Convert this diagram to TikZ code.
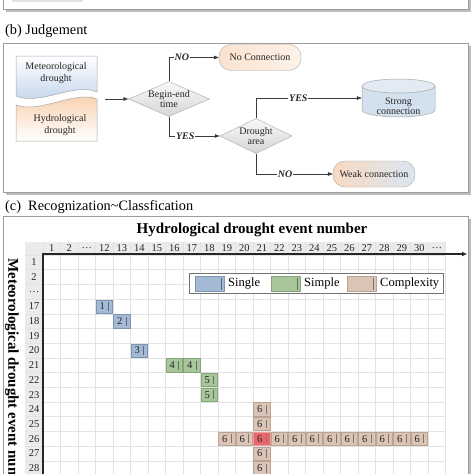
\documentclass[tikz,border=0pt]{standalone}
\usepackage{fontspec}
\setmainfont{Liberation Serif}
\usetikzlibrary{arrows.meta,shapes.geometric}
\definecolor{pborder}{HTML}{9C9C9C}
\definecolor{pshadow}{HTML}{BDBDBD}
\definecolor{fborder}{HTML}{A8A8A8}
\definecolor{arrc}{HTML}{3C3C3C}
\definecolor{metblue}{HTML}{BCD2EA}
\definecolor{hydor}{HTML}{F7CCA8}
\definecolor{ncl}{HTML}{FBE2CF}
\definecolor{ncr}{HTML}{FDF2E9}
\definecolor{wcl}{HTML}{F8DAC2}
\definecolor{wcr}{HTML}{DAE5F2}
\definecolor{cylb}{HTML}{D3E0EE}
\definecolor{cylt}{HTML}{E2EAF4}
\definecolor{gridc}{HTML}{E3E3E3}
\definecolor{hdrc}{HTML}{EBEBEB}
\definecolor{sgf}{HTML}{A4BAD4}
\definecolor{sgd}{HTML}{7D95B4}
\definecolor{smf}{HTML}{A9C59B}
\definecolor{smd}{HTML}{84A676}
\definecolor{cxf}{HTML}{DAC4B6}
\definecolor{cxd}{HTML}{BBA293}
\definecolor{redf}{HTML}{E9676A}
\definecolor{redd}{HTML}{E3A0A0}

\newcommand\gcell[5]{%
  \path[fill=#3, draw=#4, line width=0.5pt] ({43+(#1-1)*17.5+0.7},{255+(#2-1)*14.7+0.7}) rectangle ({43+#1*17.5-0.7},{255+#2*14.7-0.7});
  \draw[draw=#4!70!black, line width=0.4pt] ({43+#1*17.5-4.5},{255+(#2-1)*14.7+3}) -- ({43+#1*17.5-4.5},{255+#2*14.7-3});
  \node[celltxt] (cell-#1-#2) at ({43+(#1-0.5)*17.5-2},{255+(#2-0.5)*14.7}) {#5};
}
\newcommand\lswatch[4]{%
  \path[fill=#2, draw=#3, line width=0.5pt] (#1,276) rectangle ({#1+29},291);
  \draw[draw=#3!70!black, line width=0.4pt] ({#1+26},277.5) -- ({#1+26},289.5);
  \coordinate (#4) at ({#1+29},283.5);
}

\begin{document}
\begin{tikzpicture}[x=1pt,y=-1pt,
  txt/.style={font=\fontsize{10}{11.5}\selectfont, align=center, inner sep=0pt, text=black!85},
  flow/.style={draw=arrc, line width=0.6pt, -{Triangle[length=5pt,width=3.6pt]}},
  lab/.style={font=\bfseries\itshape\fontsize{10}{12}\selectfont, fill=white, inner sep=1pt, text=black!85},
  diam/.style={diamond, draw=fborder, top color=gray!5, bottom color=gray!32, minimum width=#1, minimum height=35pt, inner sep=0pt},
  stad/.style={draw=fborder, rounded corners=12pt, minimum width=82pt, minimum height=26pt, inner sep=0pt, font=\fontsize{10}{12}\selectfont, text=black!85},
  celltxt/.style={font=\fontsize{10.5}{12}\selectfont, inner sep=0pt, text=black!85},
  numtxt/.style={font=\fontsize{10.5}{12}\selectfont, inner sep=0pt, text=black!85},
  legtxt/.style={font=\fontsize{12.5}{14}\selectfont, inner sep=0pt, anchor=west},
  ttl/.style={font=\fontsize{14.3}{16}\selectfont, anchor=base west, inner sep=0pt},
  gline/.style={draw=gridc, line width=0.5pt},
  axisl/.style={draw=black!85, line width=1.5pt}
]
\useasboundingbox (0,0) rectangle (474,474);
\clip (0,0) rectangle (474,474);
\fill[white] (0,0) rectangle (474,474);

% ---------- panel (a) remnant
\fill[pshadow] (6,-10) rectangle (471,12);
\draw[pborder, fill=white, line width=0.8pt] (3,-12) rectangle (468,9);
\fill[gray!22] (12,-5) rectangle (83,2);

% ---------- panel (b)
\node[ttl] (tb) at (5,34) {(b) Judgement};
\fill[pshadow] (6,46) rectangle (471,195);
\draw[pborder, fill=white, line width=0.8pt] (3,43) rectangle (468,192);

\path[draw=fborder, line width=0.5pt, top color=white, bottom color=metblue]
  (16,56) -- (97,56) -- (97,92) .. controls (75,82) and (40,106) .. (16,96) -- cycle;
\path[draw=fborder, line width=0.5pt, top color=hydor, bottom color=white]
  (16,105) .. controls (40,114) and (75,90) .. (97,99) -- (97,141) -- (16,141) -- cycle;
\node[txt, font=\fontsize{10}{12}\selectfont] (mtx) at (56,73) {Meteorological\\drought};
\node[txt, font=\fontsize{10}{12}\selectfont] (htx) at (60,125) {Hydrological\\drought};

\coordinate (ms) at (105,99);
\node[diam=81pt] (be) at (169,99) {};
\node[txt, font=\fontsize{10}{10}\selectfont] (bet) at (169,99) {Begin-end\\time};
\node[diam=72pt] (da) at (256,136) {};
\node[txt, font=\fontsize{10}{10}\selectfont] (dat) at (256,136) {Drought\\area};

\node[stad, left color=ncl, right color=ncr] (nc) at (260,57.5) {No Connection};
\node[stad, left color=wcl, right color=wcr] (wc) at (374,174) {Weak connection};

\node[minimum width=73pt, minimum height=38pt, inner sep=0pt] (sc) at (398.5,98) {};
\path[fill=cylb, draw=fborder, line width=0.5pt] (362,86) -- (362,110)
  .. controls (362,113.9) and (378.8,117) .. (398.5,117)
  .. controls (418.2,117) and (435,113.9) .. (435,110) -- (435,86) -- cycle;
\path[fill=cylt, draw=fborder, line width=0.5pt] (398.5,86) ellipse [x radius=36.5, y radius=7];
\node[txt, font=\fontsize{10}{8.5}\selectfont] (sct) at (398.5,106.5) {Strong\\connection};

\draw[flow] (ms) -- (be.west);
\draw[flow] (be.north) |- (nc.west) node[lab, pos=0.63] (no1) {NO};
\draw[flow] (be.south) |- (da.west) node[lab, pos=0.66] (yes1) {YES};
\draw[flow] (da.north) |- (sc.west) node[lab, pos=0.70] (yes2) {YES};
\draw[flow] (da.south) |- (wc.west) node[lab, pos=0.69] (no2) {NO};

% ---------- panel (c)
\node[ttl] (tc) at (5,210) {(c)\ \ Recognization\textasciitilde Classfication};
\fill[pshadow] (6,219) rectangle (471,490);
\draw[pborder, fill=white, line width=0.8pt] (3,216) rectangle (468,490);

\node[font=\bfseries\fontsize{15}{17}\selectfont, inner sep=0pt] (xt) at (252,230) {Hydrological drought event number};
\node[font=\bfseries\fontsize{15}{17}\selectfont, rotate=-90, anchor=west, inner sep=0pt] (yt) at (12,258) {Meteorological drought event number};

\fill[hdrc] (25,242) rectangle (445.5,254);
\fill[hdrc] (25,254) rectangle (43,490);
\foreach \i in {0,...,23} \draw[gline] ({43+\i*17.5},242) -- ({43+\i*17.5},490);
\foreach \j in {0,...,16} \draw[gline] (25,{255+\j*14.7}) -- (445.5,{255+\j*14.7});

\foreach \t [count=\i] in {1,2,…,12,13,14,15,16,17,18,19,20,21,22,23,24,25,26,27,28,29,30,…}
  \node[numtxt] (cl\i) at ({43+(\i-0.5)*17.5},248) {\t};
\foreach \t [count=\j] in {1,2,…,17,18,19,20,21,22,23,24,25,26,27,28}
  \node[numtxt] (rl\j) at (34,{255+(\j-0.5)*14.7}) {\t};

\coordinate (org) at (43,254);
\coordinate (xend) at (467,254);
\coordinate (yend) at (43,490);
\draw[axisl] (org) -- (yend);
\draw[axisl, -{Triangle[length=5pt,width=4pt]}] ([xshift=-0.75pt]org) -- (xend);

% legend
\node[draw=black!55, fill=white, line width=0.6pt, minimum width=254pt, minimum height=20pt, inner sep=0pt] (leg) at (316,283) {};
\lswatch{195}{sgf}{sgd}{ls1}
\node[legtxt] (lt1) at ([xshift=4pt]ls1) {Single};
\lswatch{271}{smf}{smd}{ls2}
\node[legtxt] (lt2) at ([xshift=4pt]ls2) {Simple};
\lswatch{347}{cxf}{cxd}{ls3}
\node[legtxt] (lt3) at ([xshift=4pt]ls3) {Complexity};

% cells
\gcell{4}{4}{sgf}{sgd}{1}
\gcell{5}{5}{sgf}{sgd}{2}
\gcell{6}{7}{sgf}{sgd}{3}
\gcell{8}{8}{smf}{smd}{4}
\gcell{9}{8}{smf}{smd}{4}
\gcell{10}{9}{smf}{smd}{5}
\gcell{10}{10}{smf}{smd}{5}
\foreach \c in {11,12,14,15,16,17,18,19,20,21,22} {\gcell{\c}{13}{cxf}{cxd}{6}}
\foreach \r in {11,12,14,15} {\gcell{13}{\r}{cxf}{cxd}{6}}
\gcell{13}{13}{redf}{redd}{6}
\end{tikzpicture}
\end{document}
